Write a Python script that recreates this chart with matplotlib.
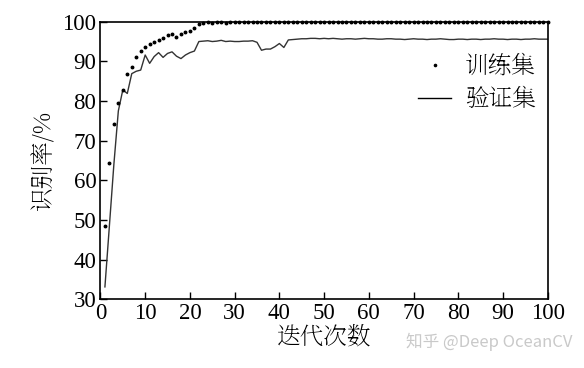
import matplotlib
matplotlib.use('Agg')
import matplotlib.pyplot as plt
from matplotlib.lines import Line2D

SERIF = 'Liberation Serif'
CJK = ['Noto Serif SC', 'Liberation Serif']

# 迭代次数 1..100
epochs = list(range(1, 101))

train_acc = [48.5, 64.4, 74.3, 79.4, 82.7, 86.9, 88.6, 91.0, 92.7, 93.7,
             94.4, 95.0, 95.5, 95.9, 96.6, 96.8, 96.2, 97.0, 97.3, 97.7,
             98.5, 99.3, 99.8, 100, 99.7, 100, 100, 99.7, 100, 100] + [100] * 70

val_acc = [33.1, 48.5, 64.0, 77.5, 82.8, 81.9, 86.9, 87.5, 87.8, 91.6,
           89.5, 91.2, 92.2, 91.0, 92.0, 92.4, 91.3, 90.7, 91.6, 92.2,
           92.6, 95.0, 95.1, 95.2, 95.0, 95.1, 95.3, 95.0, 95.1, 95.0,
           95.0, 95.1, 95.1, 95.2, 94.8, 92.8, 93.1, 93.1, 93.7, 94.5,
           93.5, 95.4, 95.5, 95.6, 95.7, 95.7, 95.8, 95.8, 95.7, 95.8,
           95.7, 95.8, 95.7, 95.6, 95.7, 95.7, 95.6, 95.7, 95.8, 95.7,
           95.7, 95.6, 95.6, 95.7, 95.7, 95.6, 95.6, 95.5, 95.6, 95.7,
           95.6, 95.6, 95.5, 95.6, 95.6, 95.7, 95.6, 95.5, 95.5, 95.6,
           95.6, 95.5, 95.6, 95.6, 95.5, 95.6, 95.6, 95.7, 95.6, 95.6,
           95.5, 95.6, 95.6, 95.5, 95.6, 95.6, 95.7, 95.6, 95.6, 95.6]

xticks = list(range(0, 101, 10))
yticks = list(range(30, 101, 10))

fig = plt.figure(figsize=(5.84, 3.68), dpi=100)
ax = fig.add_axes([0.172, 0.187, 0.766, 0.754])

ax.plot(epochs, val_acc, color='#333333', lw=1.0)
ax.plot(epochs, train_acc, linestyle='none', marker='o', ms=1.8,
        color='black', clip_on=False)

ax.set_xlim(0, 100)
ax.set_ylim(30, 100)
ax.tick_params(direction='in', length=5, width=1.0, labelsize=16.5, pad=3,
               labelfontfamily=SERIF)
ax.set_xticks(xticks, labels=[str(t) for t in xticks], family=SERIF, fontsize=16.5)
ax.set_yticks(yticks, labels=[str(t) for t in yticks], family=SERIF, fontsize=16.5)
for s in ax.spines.values():
    s.set_linewidth(1.2)

ax.set_xlabel('迭代次数', fontsize=17, labelpad=1, family=CJK)
ax.set_ylabel('识别率/%', fontsize=17, labelpad=4, family=CJK)

handles = [Line2D([], [], linestyle='none', marker='o', ms=1.6, color='black'),
           Line2D([], [], color='black', lw=1.0)]
ax.legend(handles, ['训练集', '验证集'], loc='upper right',
          bbox_to_anchor=(0.995, 0.915), frameon=False,
          prop={'family': CJK, 'size': 17},
          handlelength=1.4, handletextpad=0.6, labelspacing=0.38,
          borderaxespad=0.0)

fig.text(0.98, 0.07, '知乎 @Deep OceanCV', color='#c9c9c9', fontsize=12,
         ha='right', va='center', family=['Noto Sans CJK SC', 'DejaVu Sans'])

fig.savefig('out.png', dpi=100)
